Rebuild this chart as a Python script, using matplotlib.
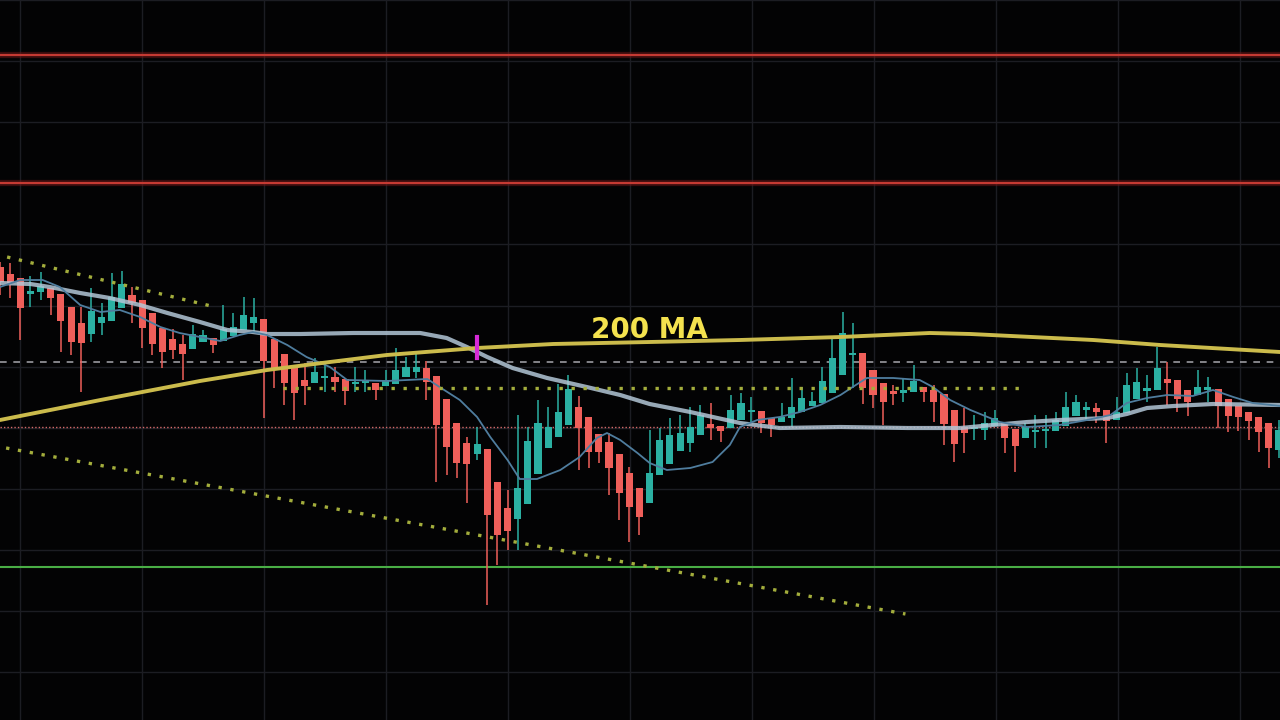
import numpy as np
import matplotlib
matplotlib.use("Agg")
import matplotlib.pyplot as plt

# candle data (price units)
opens = [453, 446, 442, 426, 428, 432, 426, 413, 397, 386, 397, 399, 412, 425, 420, 407, 392, 381, 376, 371,
         378, 382, 379, 384, 390, 397, 401, 381, 366, 352, 340, 337, 342, 343, 341, 336, 337, 337, 334, 336,
         343, 348, 352, 344, 321, 297, 277, 266, 271, 238, 212, 201, 216, 246, 272, 283, 295, 313, 303, 286,
         278, 266, 247, 232, 217, 245, 256, 269, 277, 285, 296, 294, 292, 300, 308, 309, 302, 298, 302, 308,
         314, 317, 327, 345, 365, 367, 350, 337, 329, 327, 328, 333, 330, 326, 310, 293, 291, 290, 294, 297,
         291, 282, 288, 289, 289, 294, 304, 310, 312, 310, 300, 307, 321, 329, 330, 341, 340, 330, 325, 330,
         331, 321, 314, 308, 303, 297, 270]
highs = [458, 457, 442, 444, 448, 432, 426, 413, 413, 432, 417, 447, 449, 433, 420, 407, 392, 391, 385, 395,
         390, 382, 415, 407, 423, 422, 401, 381, 366, 352, 357, 362, 357, 353, 341, 353, 350, 337, 350, 372,
         363, 367, 359, 344, 321, 297, 283, 293, 271, 238, 230, 305, 293, 320, 313, 336, 345, 324, 303, 286,
         287, 266, 253, 232, 290, 292, 302, 305, 313, 315, 317, 294, 325, 327, 323, 309, 302, 317, 342, 333,
         328, 353, 382, 408, 397, 367, 350, 337, 335, 342, 355, 333, 335, 326, 310, 312, 305, 308, 310, 297,
         291, 297, 305, 305, 308, 328, 325, 318, 317, 310, 323, 347, 352, 345, 373, 358, 340, 330, 350, 343,
         331, 321, 314, 308, 303, 297, 300]
lows = [425, 422, 380, 413, 420, 405, 368, 365, 328, 378, 385, 399, 412, 397, 372, 365, 352, 361, 340, 371,
        378, 367, 379, 384, 390, 388, 302, 332, 315, 300, 315, 337, 328, 328, 315, 328, 328, 320, 334, 336,
        343, 342, 320, 238, 245, 242, 217, 260, 115, 155, 170, 170, 216, 246, 272, 283, 295, 250, 252, 257,
        225, 200, 178, 185, 217, 245, 256, 269, 268, 285, 280, 278, 292, 300, 297, 287, 283, 298, 293, 308,
        314, 317, 327, 345, 332, 316, 312, 295, 315, 318, 328, 318, 298, 275, 258, 267, 280, 280, 294, 267,
        248, 282, 272, 272, 289, 294, 304, 300, 297, 277, 300, 307, 321, 318, 330, 315, 308, 304, 325, 318,
        292, 288, 289, 280, 268, 252, 262]
closes = [438, 437, 412, 429, 434, 422, 399, 378, 377, 409, 403, 423, 436, 417, 392, 376, 368, 370, 366, 386,
          385, 375, 391, 393, 405, 403, 359, 350, 337, 327, 334, 348, 344, 338, 329, 338, 338, 330, 340, 350,
          353, 353, 338, 295, 273, 257, 256, 276, 205, 185, 189, 232, 279, 297, 293, 308, 331, 292, 268, 268,
          252, 227, 213, 203, 247, 280, 285, 287, 293, 305, 292, 289, 310, 317, 309, 297, 295, 303, 313, 322,
          319, 339, 362, 387, 367, 332, 325, 318, 326, 330, 339, 328, 318, 296, 276, 287, 293, 297, 302, 282,
          274, 293, 289, 291, 300, 313, 318, 313, 308, 299, 308, 335, 338, 332, 352, 337, 321, 318, 333, 333,
          314, 304, 303, 299, 288, 272, 290]

# moving averages (candle index, price)
ma200_x = [0, 9.9, 19.7, 26.3, 32.5, 38.1, 47.0, 54.5, 64.0, 72.9, 82.8, 91.6, 95.6, 107.7, 114.3, 126.1]
ma200_y = [300, 320, 339, 350, 358, 365, 372, 376, 378, 380, 383, 387, 386, 380, 375, 368]

ma_slow_x = [0, 3.0, 4.9, 7.9, 10.8, 13.8, 16.5, 19.7, 22.4, 24.9, 26.3, 29.6, 34.8, 41.4, 44.0, 46.0, 48.0,
             50.5, 53.9, 57.8, 61.1, 64.0, 68.0, 72.9, 76.8, 82.8, 89.4, 94.6, 97.8, 101.2, 104.4, 109.1,
             111.0, 113.0, 115.6, 119.5, 126.1]
ma_slow_y = [437, 436, 433, 427, 422, 415, 407, 398, 390, 388, 386, 386, 387, 387, 382, 373, 363,
             352, 342, 333, 325, 316, 308, 297, 292, 293, 292, 292, 295, 298, 300, 302,
             306, 312, 314, 316, 315]

ma_fast_x = [0, 2.0, 4.2, 5.9, 7.9, 9.9, 11.8, 13.8, 15.8, 17.7, 19.7, 21.7, 23.6, 24.9, 26.3, 28.3, 30.2,
             32.5, 34.2, 38.1, 42.1, 43.3, 45.3, 47.0, 48.3, 50.0, 51.2, 52.9, 55.2, 57.1, 58.8, 59.8, 61.1,
             62.8, 64.0, 65.7, 68.0, 70.2, 71.9, 72.9, 74.6, 76.8, 78.8, 80.8, 82.8, 84.0, 85.4, 88.0, 90.6,
             91.9, 93.6, 95.6, 98.5, 101.2, 104.4, 107.1, 109.4, 111.0, 113.0, 115.0, 117.5, 119.5, 121.5,
             123.4, 126.1]
ma_fast_y = [433, 440, 440, 433, 415, 408, 410, 403, 393, 387, 383, 379, 385, 388, 385, 375, 363,
             353, 340, 339, 341, 333, 320, 303, 283, 260, 241, 241, 250, 263, 282, 287, 280,
             267, 257, 250, 252, 258, 275, 293, 300, 303, 308, 315, 325, 333, 342, 342, 340,
             333, 320, 310, 298, 293, 295, 300, 305, 317, 322, 325, 324, 330, 323,
             317, 314]

# drawn levels and trendlines
red_levels = [665, 537]
green_level = 153
dashed_level = 358
pink_level = 293
upper_trend = ([0.7, 21.2], [463, 413])
mid_trend = ([27.9, 101.2], [332, 332])
lower_trend = ([0.6, 89.2], [272, 106])

bg = "#030304"
up_col = "#2bb0a2"
down_col = "#ef5f5a"

fig = plt.figure(figsize=(12.8, 7.2), dpi=100, facecolor=bg)
ax = fig.add_axes([0, 0, 1, 1], facecolor=bg)
ax.set_xlim(0, 126.1)
ax.set_ylim(0, 720)

# grid
ax.set_xticks(np.arange(1.97, 127, 12.02))
ax.set_yticks(np.arange(47.9, 721, 61.1))
ax.grid(True, color="#1c1d23", lw=1)
ax.tick_params(length=0, labelbottom=False, labelleft=False)
for s in ax.spines.values():
    s.set_visible(False)

# horizontal levels
for lv in red_levels:
    ax.axhline(lv, color="#6e1616", lw=4.5, alpha=0.5, zorder=2)
    ax.axhline(lv, color="#c53a33", lw=1.6, zorder=2)
ax.axhline(green_level, color="#49ad45", lw=1.5, zorder=2)
ax.axhline(dashed_level, color="#9a9aa0", lw=1.2, ls=(0, (4, 4)), zorder=2)
ax.axhline(pink_level, color="#d66a6a", lw=1.0, ls=(0, (1, 1.5)), zorder=2)

# candles
x = np.arange(len(opens))
o = np.array(opens, float)
c = np.array(closes, float)
colors = [up_col if cc >= oo else down_col for oo, cc in zip(o, c)]
height = c - o
height = np.where(np.abs(height) < 1.8, np.where(height >= 0, 1.8, -1.8), height)
ax.vlines(x, lows, highs, colors=colors, lw=1.1, zorder=3)
ax.bar(x, height, bottom=o, width=0.7, color=colors, zorder=3)

# moving averages
ax.plot(ma200_x, ma200_y, color="#cbbb4c", lw=2.8, zorder=5, solid_capstyle="round")
ax.plot(ma_slow_x, ma_slow_y, color="#b2c6d6", lw=3.0, alpha=0.85, zorder=4)
ax.plot(ma_fast_x, ma_fast_y, color="#4f7d9e", lw=1.3, zorder=4)

# dotted trendlines
for tx, ty in [upper_trend, mid_trend, lower_trend]:
    ax.plot(tx, ty, color="#a3ad3c", lw=2.4, ls=(0, (1, 2.6)), zorder=5)

# cross marker
ax.plot([47.0, 47.0], [362, 383], color="#d62ad6", lw=3, zorder=6)

ax.text(64.0, 390, "200 MA", color="#f4e24e", fontsize=20, fontweight="heavy",
        ha="center", va="center", zorder=7)

plt.savefig("out.png", dpi=100, facecolor=bg)
plt.close()
